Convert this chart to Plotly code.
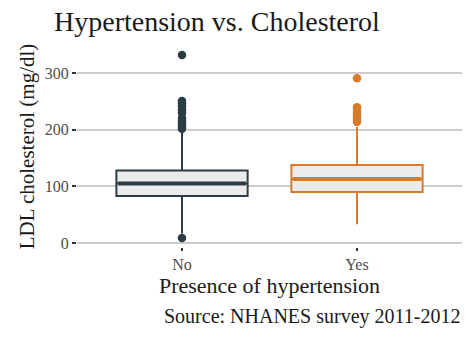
import plotly.graph_objects as go

# Group labels and precomputed box statistics (LDL, mg/dl)
groups = ["No", "Yes"]
q1 = [83, 90]
median = [105, 113]
q3 = [128, 138]
lower_whisker = [17, 33]
upper_whisker = [196, 205]

# Outlying observations for each group
outliers_no = [9, 202, 205, 209, 213, 217, 221, 230, 236, 242, 247, 251, 332]
outliers_yes = [214, 219, 224, 229, 235, 240, 291]

colors = ["#2B3D45", "#D97A2B"]
fill = "#EBEBEB"
serif = "Liberation Serif, Times New Roman, serif"
box_width = 0.75

fig = go.Figure()
shapes = []
for i, (g, c, a, m, b, lo, hi, pts) in enumerate(zip(
        groups, colors, q1, median, q3, lower_whisker, upper_whisker,
        [outliers_no, outliers_yes])):
    fig.add_trace(go.Box(
        x=[g], q1=[a], median=[m], q3=[b],
        lowerfence=[lo], upperfence=[hi],
        boxpoints=False, width=box_width,
        fillcolor=fill, line=dict(color=c, width=2),
        whiskerwidth=0, showlegend=False, hoverinfo="skip",
    ))
    fig.add_trace(go.Scatter(
        x=[g] * len(pts), y=pts, mode="markers",
        marker=dict(color=c, size=8.5), showlegend=False, hoverinfo="skip",
    ))
    # heavier median bar
    shapes.append(dict(type="line", xref="x", yref="y",
                       x0=i - box_width / 2 + 0.01, x1=i + box_width / 2 - 0.01,
                       y0=m, y1=m, line=dict(color=c, width=4)))

fig.update_layout(
    width=474, height=338,
    margin=dict(l=77, r=12, t=46, b=91),
    plot_bgcolor="white", paper_bgcolor="white",
    font=dict(family=serif, color="#1A1A1A"),
    shapes=shapes,
    title=dict(text="Hypertension vs. Cholesterol", x=54 / 474, xanchor="left",
               y=1 - 21 / 338, yanchor="middle",
               font=dict(size=28, family=serif, color="#1A1A1A")),
    xaxis=dict(
        type="category", categoryorder="array", categoryarray=groups,
        range=[-0.6, 1.6], showgrid=False, zeroline=False, showline=False,
        ticks="outside", ticklen=3, tickwidth=1.5, tickcolor="#333333",
        tickfont=dict(size=16, color="#4D4D4D", family=serif),
        title=dict(text="Presence of hypertension", standoff=5,
                   font=dict(size=22, family=serif, color="#1A1A1A")),
    ),
    yaxis=dict(
        range=[-7, 348], tickvals=[0, 100, 200, 300],
        showgrid=True, gridcolor="#CCCCCC", gridwidth=1.5,
        zeroline=False, showline=False,
        ticks="outside", ticklen=4, tickwidth=1.5, tickcolor="#333333",
        tickfont=dict(size=16, color="#4D4D4D", family=serif),
        title=dict(text="LDL cholesterol (mg/dl)", standoff=4,
                   font=dict(size=21, family=serif, color="#1A1A1A")),
    ),
    annotations=[dict(
        text="Source: NHANES survey 2011-2012", xref="paper", yref="paper",
        x=1, y=-69 / 201, xanchor="right", yanchor="middle", showarrow=False,
        font=dict(size=20, family=serif, color="#1A1A1A"),
    )],
)

fig.write_html("out.html")
